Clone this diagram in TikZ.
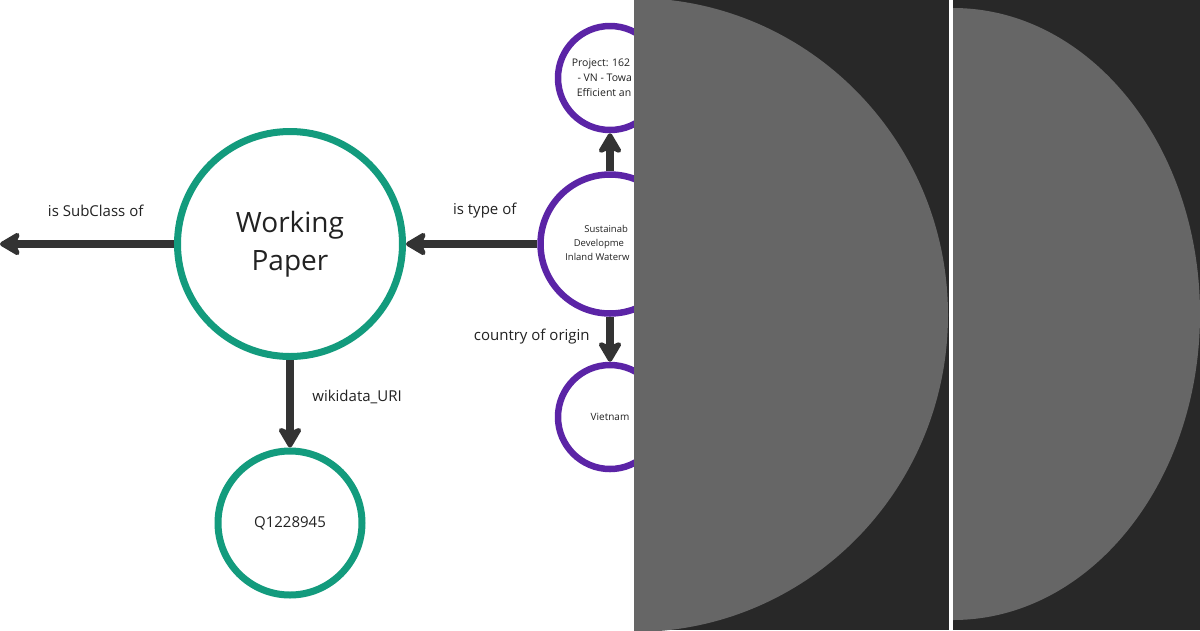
\documentclass[tikz,border=0pt]{standalone}
\usepackage{fontspec}
\setmainfont{Open Sans}
\usepackage{xcolor}
\definecolor{nodegreen}{RGB}{19,155,125}
\definecolor{nodepurple}{RGB}{91,36,166}
\definecolor{arrowgrey}{RGB}{51,51,51}
\definecolor{labelblack}{RGB}{34,34,34}
\definecolor{paneldark}{RGB}{40,40,40}
\definecolor{panelgrey}{RGB}{102,102,102}
\usetikzlibrary{arrows.meta, positioning}

\begin{document}
\begin{tikzpicture}[
    x=1pt, y=-1pt,
    classnode/.style={circle, draw=nodegreen, line width=7pt, fill=white,
                      inner sep=0pt, align=center, text=labelblack},
    itemnode/.style={circle, draw=nodepurple, line width=6.5pt, fill=white,
                     inner sep=0pt, align=center, text=labelblack},
    rel/.style={draw=arrowgrey, line width=8pt,
                -{Stealth[length=24pt, width=28pt, inset=6pt, round]}},
    rellabel/.style={font=\fontsize{15}{18}\selectfont, text=labelblack}
]
\useasboundingbox (0,0) rectangle (1200,630);
\fill[white] (0,0) rectangle (634,630);

% graph
\node[classnode, minimum size=225pt, font=\fontsize{28}{38}\selectfont]
    (paper) at (290,244) {Working\\Paper};
\node[classnode, minimum size=144pt, font=\fontsize{15}{18}\selectfont]
    (qid) at (290,523) {Q1228945};
\node[itemnode, minimum size=139pt, font=\fontsize{9.5}{14}\selectfont]
    (sdiw) at (610,244) {Sustainab\phantom{le}\\Developme\phantom{nt of\,}\\Inland Waterw\phantom{ays in}};
\node[itemnode, minimum size=104pt, font=\fontsize{10.5}{15}\selectfont]
    (project) at (610,78) {Project: 162\phantom{000}\\- VN - Towa\phantom{rd}\\Efficient an\phantom{dx}};
\node[itemnode, minimum size=104pt, font=\fontsize{10}{12}\selectfont]
    (vietnam) at (610,417) {Vietnam};
\coordinate (superclass) at (0,244);

\draw[rel] (paper) -- (superclass)
    node[rellabel, pos=0.45, yshift=33pt] {is SubClass of};
\draw[rel] (sdiw) -- (paper)
    node[rellabel, pos=0.4, yshift=33pt] {is type of};
\draw[rel] (paper) -- (qid)
    node[rellabel, midway, right=15pt, yshift=7pt] {wikidata\_URI};
\draw[rel] (sdiw) -- (project);
\draw[rel] (sdiw) -- (vietnam)
    node[rellabel, midway, left=13pt, yshift=3pt] {country of origin};

% panels
\fill[paneldark] (634,0) rectangle (949,630);
\fill[white] (949,0) rectangle (953,630);
\fill[paneldark] (953,0) rectangle (1200,630);
\begin{scope}
    \clip (634,0) rectangle (949,630);
    \fill[panelgrey] (634,315) ellipse [x radius=314, y radius=317];
\end{scope}
\begin{scope}
    \clip (953,0) rectangle (1200,630);
    \fill[panelgrey] (953,314) ellipse [x radius=247, y radius=306];
\end{scope}
\end{tikzpicture}
\end{document}
